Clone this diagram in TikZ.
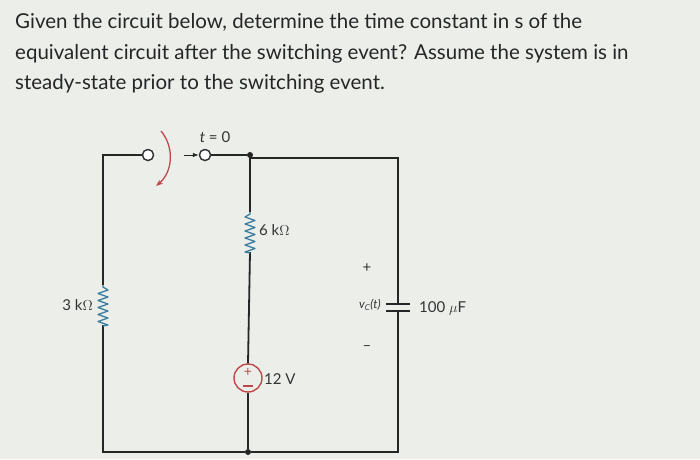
\documentclass[tikz,border=0pt]{standalone}
\usepackage{fontspec}
\setmainfont{Lato}
\usetikzlibrary{arrows.meta}
\begin{document}
\begin{tikzpicture}[x=1pt,y=-1pt,
  wire/.style={line width=1.8pt,draw=black!85},
  res/.style={line width=1.3pt,draw=rescol,line join=round},
  q/.style={anchor=base west,font=\fontsize{20.5}{20.5}\selectfont,text=black!85,inner sep=0},
  lbl/.style={font=\fontsize{15}{15}\selectfont,text=black!80,inner sep=1pt},
  term/.style={circle,draw=black!80,line width=1.3pt,fill=white,minimum size=11pt,inner sep=0},
  dot/.style={circle,fill=black!85,minimum size=6pt,inner sep=0}]
\definecolor{bg}{HTML}{ECEEEA}
\definecolor{rescol}{HTML}{3A7FA0}
\definecolor{srccol}{HTML}{C04848}
\fill[bg] (0,0) rectangle (700,459);
\useasboundingbox (0,0) rectangle (700,459);
\node[q] (l1) at (15,28) {Given the circuit below, determine the time constant in s of the};
\node[q] (l2) at (15,59) {equivalent circuit after the switching event? Assume the system is in};
\node[q] (l3) at (15,89) {steady-state prior to the switching event.};
% nodes
\coordinate (tl) at (103,155);
\node[term] (s1) at (148,155) {};
\node[term] (s2) at (205,155) {};
\node[dot] (jt) at (250,155) {};
\coordinate (tr) at (398,158);
\coordinate (br) at (398,452);
\node[dot] (jb) at (248,452) {};
\coordinate (bl) at (103,452);
\coordinate (r6t) at (250,212);
\coordinate (r6b) at (250,252);
\coordinate (r3t) at (103,285);
\coordinate (r3b) at (103,325);
\node[circle,draw=srccol,line width=1.4pt,minimum size=28pt,inner sep=0,fill=bg] (src) at (248,378) {};
\coordinate (ct) at (398,304);
\coordinate (cb) at (398,311);
% wires
\draw[wire] (s1) -- (tl) -- (r3t);
\draw[wire] (r3b) -- (bl) -- (jb) -- (br) -- (cb);
\draw[wire] (ct) -- (tr) -- (250,158) -- (jt);
\draw[wire] (s2) -- (jt) -- (r6t);
\draw[wire] (r6b) -- (src.north);
\draw[wire] (src.south) -- (jb);
\node[term] at (148,155) {};
\node[term] at (205,155) {};
% resistors
\draw[res] (r6t) -- ++(0,2) -- ++(-5,3) \foreach \i in {1,...,5}{ -- ++(10,3.5) -- ++(-10,3.5)} -- ++(5,1);
\draw[res] (r3t) -- ++(0,2) -- ++(5,3) \foreach \i in {1,...,5}{ -- ++(-10,3.5) -- ++(10,3.5)} -- ++(-5,1);
% capacitor
\draw[line width=1.8pt,black!85] (386,304) -- (410,304);
\draw[line width=1.8pt,black!85] (386,311) -- (410,311);
% source signs
\node[font=\fontsize{14}{14}\selectfont,text=srccol] (plus) at (248,372) {+};
\draw[srccol,line width=1.2pt] (243,386) -- (253,386);
% switch
\draw[-{Latex[length=6pt]},black!85,line width=1pt] (184,155) -- (s2.west);
\draw[srccol,line width=1.3pt,-{Stealth[length=7pt]}] (161,131) to[bend left=45] (156,186);
% labels
\node[lbl,font=\fontsize{15}{15}\selectfont] (tlab) at (215,137) {\textit{t} = 0};
\node[lbl,anchor=west] (l6) at (258,230) {6 k$\Omega$};
\node[lbl,anchor=east] (l3k) at (94,305) {3 k$\Omega$};
\node[lbl,anchor=west] (lv) at (263,379) {12 V};
\node[lbl,anchor=west] (lc) at (418,308) {100 $\mu$F};
\node[lbl,anchor=east,font=\itshape\fontsize{12}{12}\selectfont] (lvc) at (382,305) {v\textsubscript{C}(t)};
\node[lbl] (cp) at (367,268) {+};
\node[lbl] (cm) at (367,348) {--};
\end{tikzpicture}
\end{document}
